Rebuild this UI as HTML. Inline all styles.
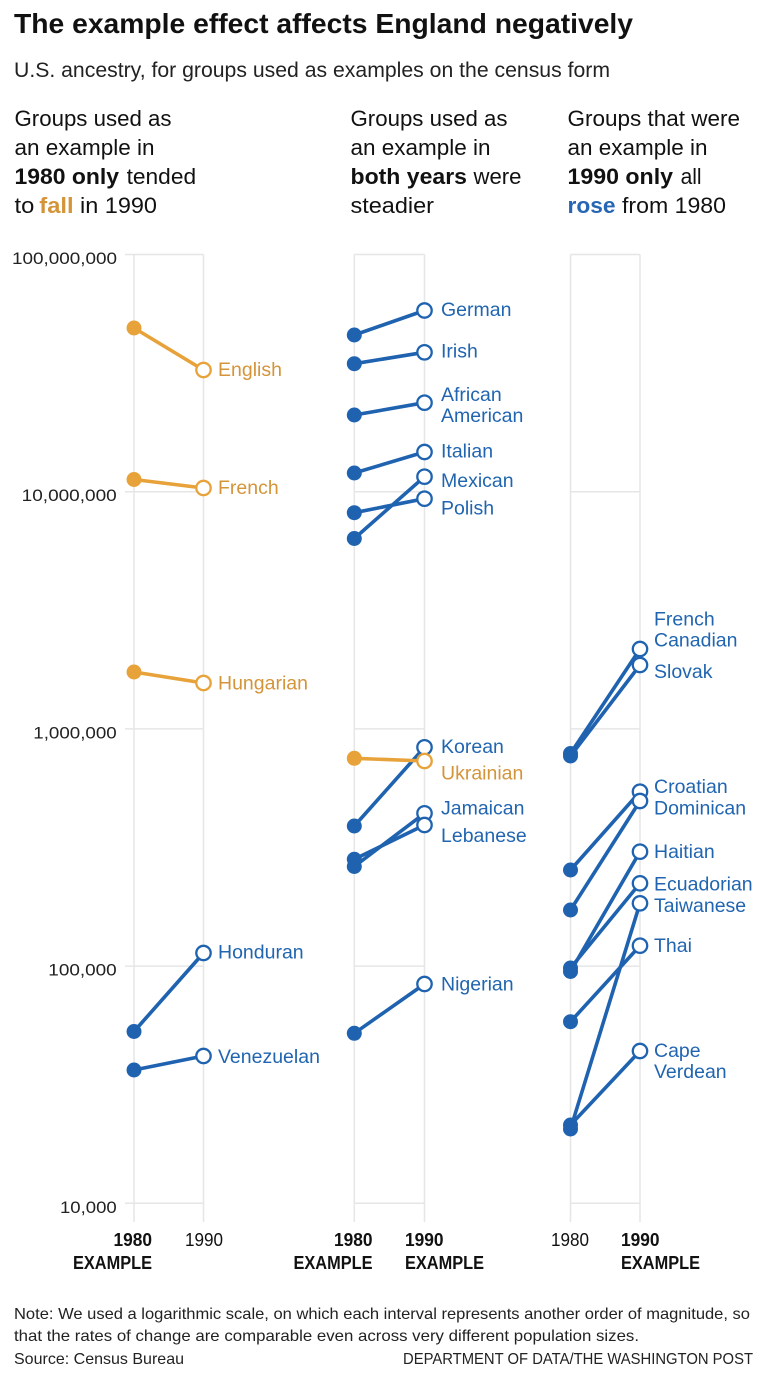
<!DOCTYPE html>
<html>
<head>
<meta charset="utf-8">
<style>
  html, body { margin:0; padding:0; background:#fff; }
  body { width:768px; height:1381px; overflow:hidden; }
  svg { display:block; }
  text { font-family: "Liberation Sans", "DejaVu Sans", sans-serif; }
</style>
</head>
<body>
<svg width="768" height="1381" viewBox="0 0 768 1381" xmlns="http://www.w3.org/2000/svg">
  <!-- Title & subtitle -->
  <text x="14" y="33" font-size="28" font-weight="bold" fill="#111" textLength="619" lengthAdjust="spacingAndGlyphs">The example effect affects England negatively</text>
  <text x="14" y="77" font-size="21" fill="#222" textLength="596" lengthAdjust="spacingAndGlyphs">U.S. ancestry, for groups used as examples on the census form</text>

  <!-- Column headers -->
  <g font-size="22" fill="#111">
    <text x="14.5" y="126" textLength="157" lengthAdjust="spacingAndGlyphs">Groups used as</text>
    <text x="14.5" y="155" textLength="140" lengthAdjust="spacingAndGlyphs">an example in</text>
    <text x="14.5" y="184" font-weight="bold" textLength="104.5" lengthAdjust="spacingAndGlyphs">1980 only</text>
    <text x="126.6" y="184" textLength="69.5" lengthAdjust="spacingAndGlyphs">tended</text>
    <text x="14.5" y="213" textLength="19.8" lengthAdjust="spacingAndGlyphs">to</text>
    <text x="39.3" y="213" font-weight="bold" fill="#d4943a" textLength="34.3" lengthAdjust="spacingAndGlyphs">fall</text>
    <text x="80" y="213" textLength="77" lengthAdjust="spacingAndGlyphs">in 1990</text>

    <text x="350.5" y="126" textLength="157" lengthAdjust="spacingAndGlyphs">Groups used as</text>
    <text x="350.5" y="155" textLength="140" lengthAdjust="spacingAndGlyphs">an example in</text>
    <text x="350.5" y="184" font-weight="bold" textLength="116.5" lengthAdjust="spacingAndGlyphs">both years</text>
    <text x="473.5" y="184" textLength="48" lengthAdjust="spacingAndGlyphs">were</text>
    <text x="350.5" y="213" textLength="83.5" lengthAdjust="spacingAndGlyphs">steadier</text>

    <text x="567.5" y="126" textLength="172.5" lengthAdjust="spacingAndGlyphs">Groups that were</text>
    <text x="567.5" y="155" textLength="140" lengthAdjust="spacingAndGlyphs">an example in</text>
    <text x="567.5" y="184" font-weight="bold" textLength="105.5" lengthAdjust="spacingAndGlyphs">1990 only</text>
    <text x="680.6" y="184" textLength="21" lengthAdjust="spacingAndGlyphs">all</text>
    <text x="567.5" y="213" font-weight="bold" fill="#2766b5" textLength="48" lengthAdjust="spacingAndGlyphs">rose</text>
    <text x="622" y="213" textLength="104" lengthAdjust="spacingAndGlyphs">from 1980</text>
  </g>

  <!-- Gridlines -->
  <g stroke="#e6e6e6" stroke-width="1.5" fill="none">
    <line x1="134" y1="254.5" x2="134" y2="1222"/>
    <line x1="203.5" y1="254.5" x2="203.5" y2="1222"/>
    <line x1="125" y1="254.5" x2="203.5" y2="254.5"/>
    <line x1="125" y1="491.7" x2="203.5" y2="491.7"/>
    <line x1="125" y1="728.9" x2="203.5" y2="728.9"/>
    <line x1="125" y1="966.1" x2="203.5" y2="966.1"/>
    <line x1="125" y1="1203.3" x2="203.5" y2="1203.3"/>
    <line x1="354.3" y1="254.5" x2="354.3" y2="1222"/>
    <line x1="424.5" y1="254.5" x2="424.5" y2="1222"/>
    <line x1="354.3" y1="254.5" x2="424.5" y2="254.5"/>
    <line x1="354.3" y1="491.7" x2="424.5" y2="491.7"/>
    <line x1="354.3" y1="728.9" x2="424.5" y2="728.9"/>
    <line x1="354.3" y1="966.1" x2="424.5" y2="966.1"/>
    <line x1="354.3" y1="1203.3" x2="424.5" y2="1203.3"/>
    <line x1="570.5" y1="254.5" x2="570.5" y2="1222"/>
    <line x1="640" y1="254.5" x2="640" y2="1222"/>
    <line x1="570.5" y1="254.5" x2="640" y2="254.5"/>
    <line x1="570.5" y1="491.7" x2="640" y2="491.7"/>
    <line x1="570.5" y1="728.9" x2="640" y2="728.9"/>
    <line x1="570.5" y1="966.1" x2="640" y2="966.1"/>
    <line x1="570.5" y1="1203.3" x2="640" y2="1203.3"/>
  </g>

  <!-- Y tick labels -->
  <g font-size="17" fill="#222">
    <text x="12" y="264" textLength="105" lengthAdjust="spacingAndGlyphs">100,000,000</text>
    <text x="21.7" y="501" textLength="95" lengthAdjust="spacingAndGlyphs">10,000,000</text>
    <text x="33.3" y="738.4" textLength="83.4" lengthAdjust="spacingAndGlyphs">1,000,000</text>
    <text x="48.3" y="975.3" textLength="68.4" lengthAdjust="spacingAndGlyphs">100,000</text>
    <text x="60" y="1212.8" textLength="56.7" lengthAdjust="spacingAndGlyphs">10,000</text>
  </g>

  <!-- Series lines: blue -->
  <g stroke="#1f63b0" stroke-width="3.6" stroke-linecap="round" fill="none">
    <line x1="134" y1="1031.5" x2="203.5" y2="953"/>
    <line x1="134" y1="1070" x2="203.5" y2="1056"/>

    <line x1="354.3" y1="335" x2="424.5" y2="310.5"/>
    <line x1="354.3" y1="363.7" x2="424.5" y2="352.3"/>
    <line x1="354.3" y1="415" x2="424.5" y2="402.7"/>
    <line x1="354.3" y1="473" x2="424.5" y2="452"/>
    <line x1="354.3" y1="512.7" x2="424.5" y2="498.7"/>
    <line x1="354.3" y1="538.5" x2="424.5" y2="476.7"/>
    <line x1="354.3" y1="826" x2="424.5" y2="747.3"/>
    <line x1="354.3" y1="866.5" x2="424.5" y2="813.3"/>
    <line x1="354.3" y1="859.3" x2="424.5" y2="825"/>
    <line x1="354.3" y1="1033.3" x2="424.5" y2="984"/>

    <line x1="570.5" y1="753.5" x2="640" y2="649"/>
    <line x1="570.5" y1="756" x2="640" y2="665"/>
    <line x1="570.5" y1="870" x2="640" y2="791.7"/>
    <line x1="570.5" y1="910" x2="640" y2="801"/>
    <line x1="570.5" y1="971.5" x2="640" y2="851.7"/>
    <line x1="570.5" y1="968" x2="640" y2="883.3"/>
    <line x1="570.5" y1="1129" x2="640" y2="903.3"/>
    <line x1="570.5" y1="1021.7" x2="640" y2="945.7"/>
    <line x1="570.5" y1="1125" x2="640" y2="1051"/>
  </g>

  <!-- Blue dots 1980 (filled) -->
  <g fill="#1f63b0">
    <circle cx="134" cy="1031.5" r="7.5"/>
    <circle cx="134" cy="1070" r="7.5"/>
    <circle cx="354.3" cy="335" r="7.5"/>
    <circle cx="354.3" cy="363.7" r="7.5"/>
    <circle cx="354.3" cy="415" r="7.5"/>
    <circle cx="354.3" cy="473" r="7.5"/>
    <circle cx="354.3" cy="512.7" r="7.5"/>
    <circle cx="354.3" cy="538.5" r="7.5"/>
    <circle cx="354.3" cy="826" r="7.5"/>
    <circle cx="354.3" cy="866.5" r="7.5"/>
    <circle cx="354.3" cy="859.3" r="7.5"/>
    <circle cx="354.3" cy="1033.3" r="7.5"/>
    <circle cx="570.5" cy="753.5" r="7.5"/>
    <circle cx="570.5" cy="756" r="7.5"/>
    <circle cx="570.5" cy="870" r="7.5"/>
    <circle cx="570.5" cy="910" r="7.5"/>
    <circle cx="570.5" cy="971.5" r="7.5"/>
    <circle cx="570.5" cy="968" r="7.5"/>
    <circle cx="570.5" cy="1129" r="7.5"/>
    <circle cx="570.5" cy="1021.7" r="7.5"/>
    <circle cx="570.5" cy="1125" r="7.5"/>
  </g>

  <!-- Blue open circles 1990 -->
  <g fill="#fff" stroke="#1f63b0" stroke-width="2.3">
    <circle cx="203.5" cy="953" r="7.2"/>
    <circle cx="203.5" cy="1056" r="7.2"/>
    <circle cx="424.5" cy="310.5" r="7.2"/>
    <circle cx="424.5" cy="352.3" r="7.2"/>
    <circle cx="424.5" cy="402.7" r="7.2"/>
    <circle cx="424.5" cy="452" r="7.2"/>
    <circle cx="424.5" cy="498.7" r="7.2"/>
    <circle cx="424.5" cy="476.7" r="7.2"/>
    <circle cx="424.5" cy="747.3" r="7.2"/>
    <circle cx="424.5" cy="813.3" r="7.2"/>
    <circle cx="424.5" cy="825" r="7.2"/>
    <circle cx="424.5" cy="984" r="7.2"/>
    <circle cx="640" cy="649" r="7.2"/>
    <circle cx="640" cy="665" r="7.2"/>
    <circle cx="640" cy="791.7" r="7.2"/>
    <circle cx="640" cy="801" r="7.2"/>
    <circle cx="640" cy="851.7" r="7.2"/>
    <circle cx="640" cy="883.3" r="7.2"/>
    <circle cx="640" cy="903.3" r="7.2"/>
    <circle cx="640" cy="945.7" r="7.2"/>
    <circle cx="640" cy="1051" r="7.2"/>
  </g>

  <!-- Orange series -->
  <g stroke="#e8a23a" stroke-width="3.6" stroke-linecap="round" fill="none">
    <line x1="134" y1="328" x2="203.5" y2="370"/>
    <line x1="134" y1="479.5" x2="203.5" y2="488"/>
    <line x1="134" y1="672" x2="203.5" y2="683"/>
    <line x1="354.3" y1="758.3" x2="424.5" y2="761"/>
  </g>
  <g fill="#e8a23a">
    <circle cx="134" cy="328" r="7.5"/>
    <circle cx="134" cy="479.5" r="7.5"/>
    <circle cx="134" cy="672" r="7.5"/>
    <circle cx="354.3" cy="758.3" r="7.5"/>
  </g>
  <g fill="#fff" stroke="#e8a23a" stroke-width="2.3">
    <circle cx="203.5" cy="370" r="7.2"/>
    <circle cx="203.5" cy="488" r="7.2"/>
    <circle cx="203.5" cy="683" r="7.2"/>
    <circle cx="424.5" cy="761" r="7.2"/>
  </g>

  <!-- Series labels -->
  <g font-size="19.5" fill="#d4943a">
    <text x="218" y="376">English</text>
    <text x="218" y="494">French</text>
    <text x="218" y="689.5">Hungarian</text>
    <text x="441" y="779.7">Ukrainian</text>
  </g>
  <g font-size="19.5" fill="#2165b0">
    <text x="218" y="958.5">Honduran</text>
    <text x="218" y="1063">Venezuelan</text>

    <text x="441" y="316">German</text>
    <text x="441" y="357.7">Irish</text>
    <text x="441" y="401">African</text>
    <text x="441" y="422">American</text>
    <text x="441" y="457.7">Italian</text>
    <text x="441" y="487">Mexican</text>
    <text x="441" y="514.3">Polish</text>
    <text x="441" y="753">Korean</text>
    <text x="441" y="814.3">Jamaican</text>
    <text x="441" y="842">Lebanese</text>
    <text x="441" y="990.3">Nigerian</text>

    <text x="654" y="625.3">French</text>
    <text x="654" y="646.3">Canadian</text>
    <text x="654" y="678">Slovak</text>
    <text x="654" y="793">Croatian</text>
    <text x="654" y="814.3">Dominican</text>
    <text x="654" y="858">Haitian</text>
    <text x="654" y="890.3">Ecuadorian</text>
    <text x="654" y="912">Taiwanese</text>
    <text x="654" y="952">Thai</text>
    <text x="654" y="1057">Cape</text>
    <text x="654" y="1078">Verdean</text>
  </g>

  <!-- X axis labels -->
  <g font-size="18" fill="#111">
    <text x="113.5" y="1246" font-weight="bold" textLength="38.5" lengthAdjust="spacingAndGlyphs">1980</text>
    <text x="73" y="1269" font-weight="bold" textLength="79" lengthAdjust="spacingAndGlyphs">EXAMPLE</text>
    <text x="185" y="1246" textLength="38" lengthAdjust="spacingAndGlyphs">1990</text>

    <text x="334" y="1246" font-weight="bold" textLength="38.5" lengthAdjust="spacingAndGlyphs">1980</text>
    <text x="293.5" y="1269" font-weight="bold" textLength="79" lengthAdjust="spacingAndGlyphs">EXAMPLE</text>
    <text x="405" y="1246" font-weight="bold" textLength="38.5" lengthAdjust="spacingAndGlyphs">1990</text>
    <text x="405" y="1269" font-weight="bold" textLength="79" lengthAdjust="spacingAndGlyphs">EXAMPLE</text>

    <text x="551" y="1246" textLength="38" lengthAdjust="spacingAndGlyphs">1980</text>
    <text x="621" y="1246" font-weight="bold" textLength="38.5" lengthAdjust="spacingAndGlyphs">1990</text>
    <text x="621" y="1269" font-weight="bold" textLength="79" lengthAdjust="spacingAndGlyphs">EXAMPLE</text>
  </g>

  <!-- Notes -->
  <g font-size="16" fill="#222">
    <text x="14" y="1319" textLength="736" lengthAdjust="spacingAndGlyphs">Note: We used a logarithmic scale, on which each interval represents another order of magnitude, so</text>
    <text x="14" y="1341" textLength="625" lengthAdjust="spacingAndGlyphs">that the rates of change are comparable even across very different population sizes.</text>
    <text x="14" y="1364" textLength="170" lengthAdjust="spacingAndGlyphs">Source: Census Bureau</text>
    <text x="403" y="1364" textLength="350" lengthAdjust="spacingAndGlyphs">DEPARTMENT OF DATA/THE WASHINGTON POST</text>
  </g>
</svg>
</body>
</html>
